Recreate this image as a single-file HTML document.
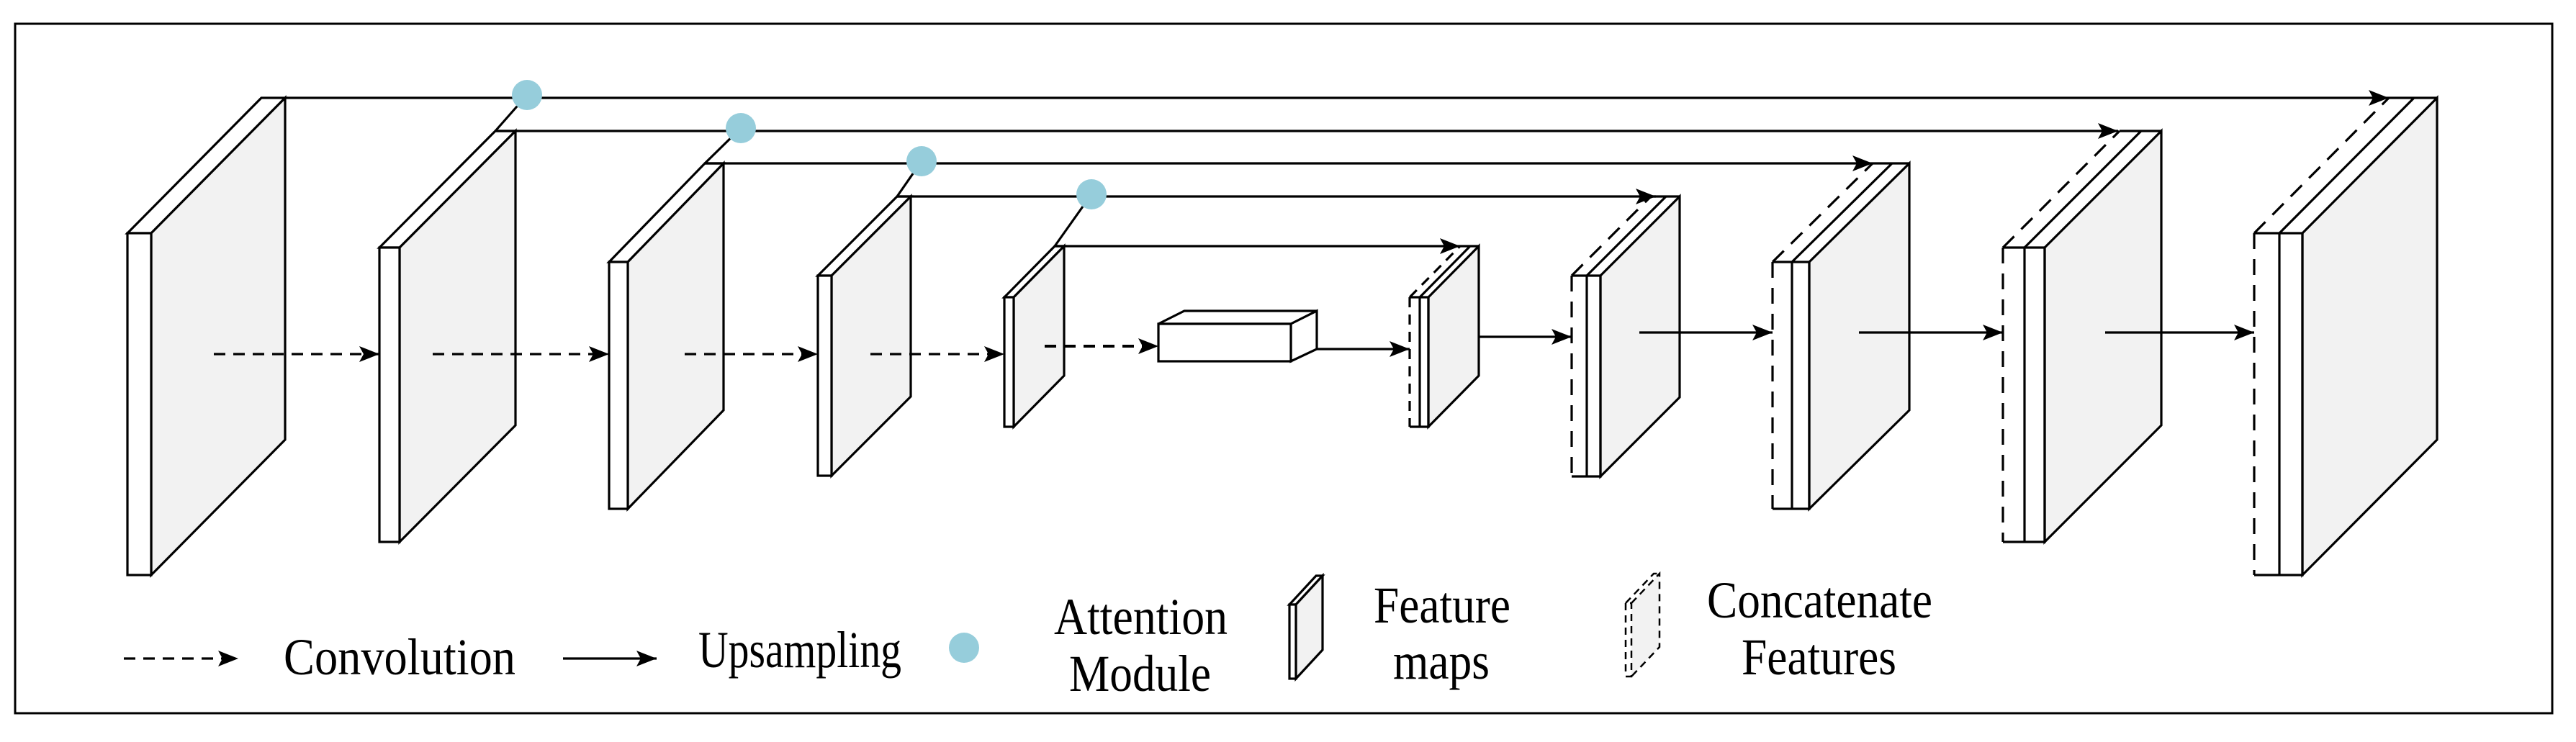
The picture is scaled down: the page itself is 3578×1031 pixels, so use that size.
<!DOCTYPE html>
<html><head><meta charset="utf-8"><style>
html,body{margin:0;padding:0;background:#fff;}
svg{display:block;}
text{font-family:"Liberation Serif",serif;fill:#000;}
</style></head><body>
<svg width="3578" height="1031" viewBox="0 0 3578 1031" xmlns="http://www.w3.org/2000/svg">
<defs>
<marker id="ah" markerUnits="userSpaceOnUse" markerWidth="30" markerHeight="24" refX="28" refY="12" orient="auto">
<path d="M0,1 L28,12 L0,23 L6,12 Z" fill="#000"/>
</marker>
</defs>
<rect x="21" y="33" width="3524" height="958" fill="none" stroke="#000" stroke-width="3"/>
<g stroke="#000" stroke-width="3.2" stroke-linejoin="miter">
<polygon points="177,324 210,324 396,136 363,136" fill="#fff"/>
<polygon points="210,324 396,136 396,611 210,799" fill="#f2f2f2"/>
<rect x="177" y="324" width="33" height="475" fill="#fff"/>

<polygon points="527,344 555,344 716,182 688,182" fill="#fff"/>
<polygon points="555,344 716,182 716,591 555,753" fill="#f2f2f2"/>
<rect x="527" y="344" width="28" height="409" fill="#fff"/>

<polygon points="846,364 872,364 1005,227 979,227" fill="#fff"/>
<polygon points="872,364 1005,227 1005,570 872,707" fill="#f2f2f2"/>
<rect x="846" y="364" width="26" height="343" fill="#fff"/>

<polygon points="1136,383 1155,383 1265,273 1246,273" fill="#fff"/>
<polygon points="1155,383 1265,273 1265,551 1155,661" fill="#f2f2f2"/>
<rect x="1136" y="383" width="19" height="278" fill="#fff"/>

<polygon points="1395,413 1408,413 1478,342 1465,342" fill="#fff"/>
<polygon points="1408,413 1478,342 1478,522 1408,593" fill="#f2f2f2"/>
<rect x="1395" y="413" width="13" height="180" fill="#fff"/>

<polygon points="1609,450 1793,450 1829,432 1645,432" fill="#fff"/>
<polygon points="1793,450 1829,432 1829,485 1793,502" fill="#fff"/>
<rect x="1609" y="450" width="184" height="52" fill="#fff"/>

<polygon points="1958,413 1984,413 2054,342 2028,342" fill="#fff" stroke="none"/>
<rect x="1958" y="413" width="26" height="180" fill="#fff" stroke="none"/>
<polygon points="1984,413 2054,342 2054,522 1984,593" fill="#f2f2f2"/>
<path d="M1972,413 L2042,342 M2028,342 L2054,342 M1958,413 L1984,413 L1984,593 L1958,593 M1972,413 L1972,593" fill="none"/>
<path d="M1958,413 L1958,593 M1958,413 L2028,342" fill="none" stroke-dasharray="14,10"/>

<polygon points="2183,383 2223,383 2333,273 2293,273" fill="#fff" stroke="none"/>
<rect x="2183" y="383" width="40" height="279" fill="#fff" stroke="none"/>
<polygon points="2223,383 2333,273 2333,552 2223,662" fill="#f2f2f2"/>
<path d="M2204,383 L2314,273 M2293,273 L2333,273 M2183,383 L2223,383 L2223,662 L2183,662 M2204,383 L2204,662" fill="none"/>
<path d="M2183,383 L2183,662 M2183,383 L2293,273" fill="none" stroke-dasharray="22,14"/>

<polygon points="2462,364 2513,364 2652,227 2601,227" fill="#fff" stroke="none"/>
<rect x="2462" y="364" width="51" height="343" fill="#fff" stroke="none"/>
<polygon points="2513,364 2652,227 2652,570 2513,707" fill="#f2f2f2"/>
<path d="M2489,364 L2628,227 M2601,227 L2652,227 M2462,364 L2513,364 L2513,707 L2462,707 M2489,364 L2489,707" fill="none"/>
<path d="M2462,364 L2462,707 M2462,364 L2601,227" fill="none" stroke-dasharray="22,14"/>

<polygon points="2782,344 2840,344 3002,182 2944,182" fill="#fff" stroke="none"/>
<rect x="2782" y="344" width="58" height="409" fill="#fff" stroke="none"/>
<polygon points="2840,344 3002,182 3002,591 2840,753" fill="#f2f2f2"/>
<path d="M2812,344 L2974,182 M2944,182 L3002,182 M2782,344 L2840,344 L2840,753 L2782,753 M2812,344 L2812,753" fill="none"/>
<path d="M2782,344 L2782,753 M2782,344 L2944,182" fill="none" stroke-dasharray="22,14"/>

<polygon points="3131,324 3198,324 3385,136 3318,136" fill="#fff" stroke="none"/>
<rect x="3131" y="324" width="67" height="475" fill="#fff" stroke="none"/>
<polygon points="3198,324 3385,136 3385,611 3198,799" fill="#f2f2f2"/>
<path d="M3166,324 L3353,136 M3318,136 L3385,136 M3131,324 L3198,324 L3198,799 L3131,799 M3166,324 L3166,799" fill="none"/>
<path d="M3131,324 L3131,799 M3131,324 L3318,136" fill="none" stroke-dasharray="22,14"/>

<path d="M396,136 L3318,136" marker-end="url(#ah)" fill="none"/>
<path d="M688,182 L2942,182" marker-end="url(#ah)" fill="none"/>
<path d="M979,227 L2601,227" marker-end="url(#ah)" fill="none"/>
<path d="M1246,273 L2300,273" marker-end="url(#ah)" fill="none"/>
<path d="M1465,342 L2028,342" marker-end="url(#ah)" fill="none"/>
<path d="M688,182 L732,132 M979,227 L1029,178 M1246,273 L1280,224 M1465,342 L1516,270" fill="none"/>

<g fill="none" stroke-dasharray="16,11">
<path d="M297,492 L527,492" marker-end="url(#ah)"/>
<path d="M601,492 L846,492" marker-end="url(#ah)"/>
<path d="M951,492 L1136,492" marker-end="url(#ah)"/>
<path d="M1209,492 L1395,492" marker-end="url(#ah)"/>
<path d="M1451,481 L1609,481" marker-end="url(#ah)" stroke-width="4"/>
</g>
<g fill="none">
<path d="M1829,485 L1958,485" marker-end="url(#ah)"/>
<path d="M2054,468 L2183,468" marker-end="url(#ah)"/>
<path d="M2277,462 L2462,462" marker-end="url(#ah)"/>
<path d="M2582,462 L2782,462" marker-end="url(#ah)"/>
<path d="M2924,462 L3131,462" marker-end="url(#ah)"/>
</g>

<path d="M172,915 L331,915" fill="none" stroke-dasharray="16,11" marker-end="url(#ah)"/>
<path d="M782,915 L912,915" fill="none" marker-end="url(#ah)"/>
<polygon points="1791,840 1800,840 1837,800 1828,800" fill="#fff"/>
<polygon points="1800,840 1837,800 1837,903 1800,943" fill="#f2f2f2"/>
<rect x="1791" y="840" width="9" height="103" fill="#fff"/>
<polygon points="2266,838 2305,797 2305,899 2266,940" fill="#f2f2f2" stroke="none"/>
<path d="M2258,838 L2258,940 L2266,940 L2266,838 Z M2258,838 L2297,797 L2305,797 M2266,838 L2305,797 L2305,899 L2266,940" fill="none" stroke-dasharray="10,7" stroke-width="2.5"/>
</g>
<g fill="#96cddb">
<circle cx="732" cy="132" r="21"/>
<circle cx="1029" cy="178" r="21"/>
<circle cx="1280" cy="224" r="21"/>
<circle cx="1516" cy="270" r="21"/>
<circle cx="1339" cy="900" r="21"/>
</g>
<g font-size="72">
<text x="394" y="937" textLength="322" lengthAdjust="spacingAndGlyphs">Convolution</text>
<text x="970" y="927" textLength="282" lengthAdjust="spacingAndGlyphs">Upsampling</text>
<text x="1464" y="881" textLength="241" lengthAdjust="spacingAndGlyphs">Attention</text>
<text x="1485" y="960" textLength="197" lengthAdjust="spacingAndGlyphs">Module</text>
<text x="1908" y="865" textLength="190" lengthAdjust="spacingAndGlyphs">Feature</text>
<text x="1935" y="943" textLength="134" lengthAdjust="spacingAndGlyphs">maps</text>
<text x="2371" y="858" textLength="313" lengthAdjust="spacingAndGlyphs">Concatenate</text>
<text x="2419" y="937" textLength="215" lengthAdjust="spacingAndGlyphs">Features</text>
</g>
</svg>
</body></html>
